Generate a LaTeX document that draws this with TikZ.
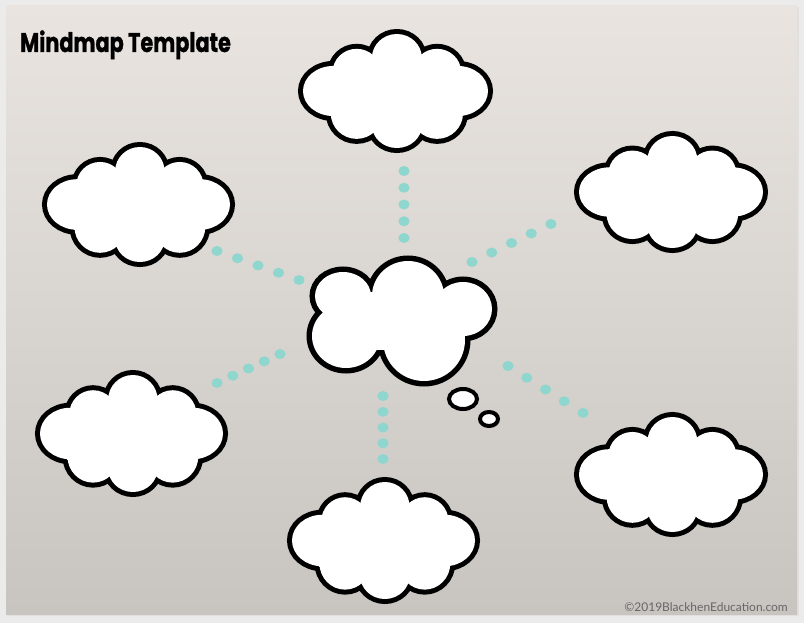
\documentclass[tikz,border=0pt]{standalone}
\usepackage{fontspec}
\setmainfont{Lato}
\newfontfamily\titlefont{Poppins}[BoldFeatures={FakeBold=1.2}]
\usetikzlibrary{calc,shapes.geometric}
\definecolor{dotc}{HTML}{8ED6CE}
\definecolor{bgtop}{HTML}{E9E4DF}
\definecolor{bgbot}{HTML}{C8C5C1}
\definecolor{outerc}{HTML}{EBEBEB}
\definecolor{copyc}{HTML}{666666}

% lobes of an outer cloud, in unit coordinates (y grows downwards)
\newcommand\cloudlobes{%
 (-0.67,0) ellipse [x radius=0.33, y radius=0.44]
 (-0.42,-0.33) ellipse [x radius=0.26, y radius=0.41]
 (0.015,-0.58) ellipse [x radius=0.27, y radius=0.42]
 (0.45,-0.33) ellipse [x radius=0.26, y radius=0.41]
 (0.67,0) ellipse [x radius=0.33, y radius=0.44]
 (0.45,0.39) ellipse [x radius=0.28, y radius=0.45]
 (0.015,0.6) ellipse [x radius=0.27, y radius=0.40]
 (-0.42,0.39) ellipse [x radius=0.28, y radius=0.45]}
\newcommand\drawcloud[3]{%
 \begin{scope}[shift={(#1)}, xscale=#2/2, yscale=#3/2]
  \draw[line width=10pt] \cloudlobes;
  \fill[white] (-0.7,-0.4) rectangle (0.7,0.45);
  \fill[white] \cloudlobes;
 \end{scope}}

% lobes of the central thought cloud, in pixels
\newcommand\centrelobes{%
 (343,296) ellipse [x radius=28, y radius=24]
 (408,296) ellipse [x radius=36, y radius=35]
 (463,309) ellipse [x radius=29, y radius=27]
 (424,340) ellipse [x radius=41, y radius=41]
 (346,336) ellipse [x radius=34, y radius=32]}

\tikzset{
 dotmark/.style={fill=dotc},
 bubble/.style={draw=black, line width=4pt, fill=white}
}
\newcommand\dotchain[2]{%
 \foreach \t in {0,0.25,0.5,0.75,1}
   \fill[dotmark] ($(#1)!\t!(#2)$) ellipse [x radius=5.6, y radius=5];}

\begin{document}
\begin{tikzpicture}[x=1pt,y=-1pt]
\useasboundingbox (0,0) rectangle (804,623);
\fill[outerc] (0,0) rectangle (804,623);
\fill[black!12] (7,7) rectangle (799,616);
\shade[top color=bgtop, bottom color=bgbot] (6,6) rectangle (797,614);

% named places
\coordinate (ctop) at (395.5,91);
\coordinate (cul) at (138.5,204.5);
\coordinate (cur) at (671,192);
\coordinate (cll) at (131.5,433.5);
\coordinate (cbot) at (383.5,540.5);
\coordinate (clr) at (671,474.5);

% dotted connectors
\coordinate (a1) at (404,171); \coordinate (a2) at (404,238);
\coordinate (b1) at (217,251); \coordinate (b2) at (299,280);
\coordinate (c1) at (280,354); \coordinate (c2) at (217,383);
\coordinate (d1) at (551,224); \coordinate (d2) at (472,262);
\coordinate (e1) at (508,366); \coordinate (e2) at (583,413);
\coordinate (f1) at (383,396); \coordinate (f2) at (383,459);
\dotchain{a1}{a2}
\dotchain{b1}{b2}
\dotchain{c1}{c2}
\dotchain{d1}{d2}
\dotchain{e1}{e2}
\dotchain{f1}{f2}

% outer clouds
\drawcloud{ctop}{185}{114}
\drawcloud{cul}{183}{115}
\drawcloud{cur}{184}{112}
\drawcloud{cll}{183}{117}
\drawcloud{cbot}{183}{117}
\drawcloud{clr}{184}{115}

% central thought cloud
\draw[line width=11pt] \centrelobes;
\fill[white] (335,292) rectangle (450,350);
\fill[white] \centrelobes;
\node[bubble, ellipse, inner sep=0pt, minimum width=28pt, minimum height=20pt] (bub1) at (463,399) {};
\node[bubble, ellipse, inner sep=0pt, minimum width=18pt, minimum height=14pt] (bub2) at (489,419) {};

% texts
\node[anchor=base west, inner sep=0pt, xscale=0.77, font=\titlefont\bfseries\fontsize{27}{30}\selectfont] (title) at (20,52) {Mindmap Template};
\node[anchor=base east, inner sep=0pt, text=copyc, font=\fontsize{12}{14}\selectfont] (copy) at (788,611) {©2019BlackhenEducation.com};
\end{tikzpicture}
\end{document}
